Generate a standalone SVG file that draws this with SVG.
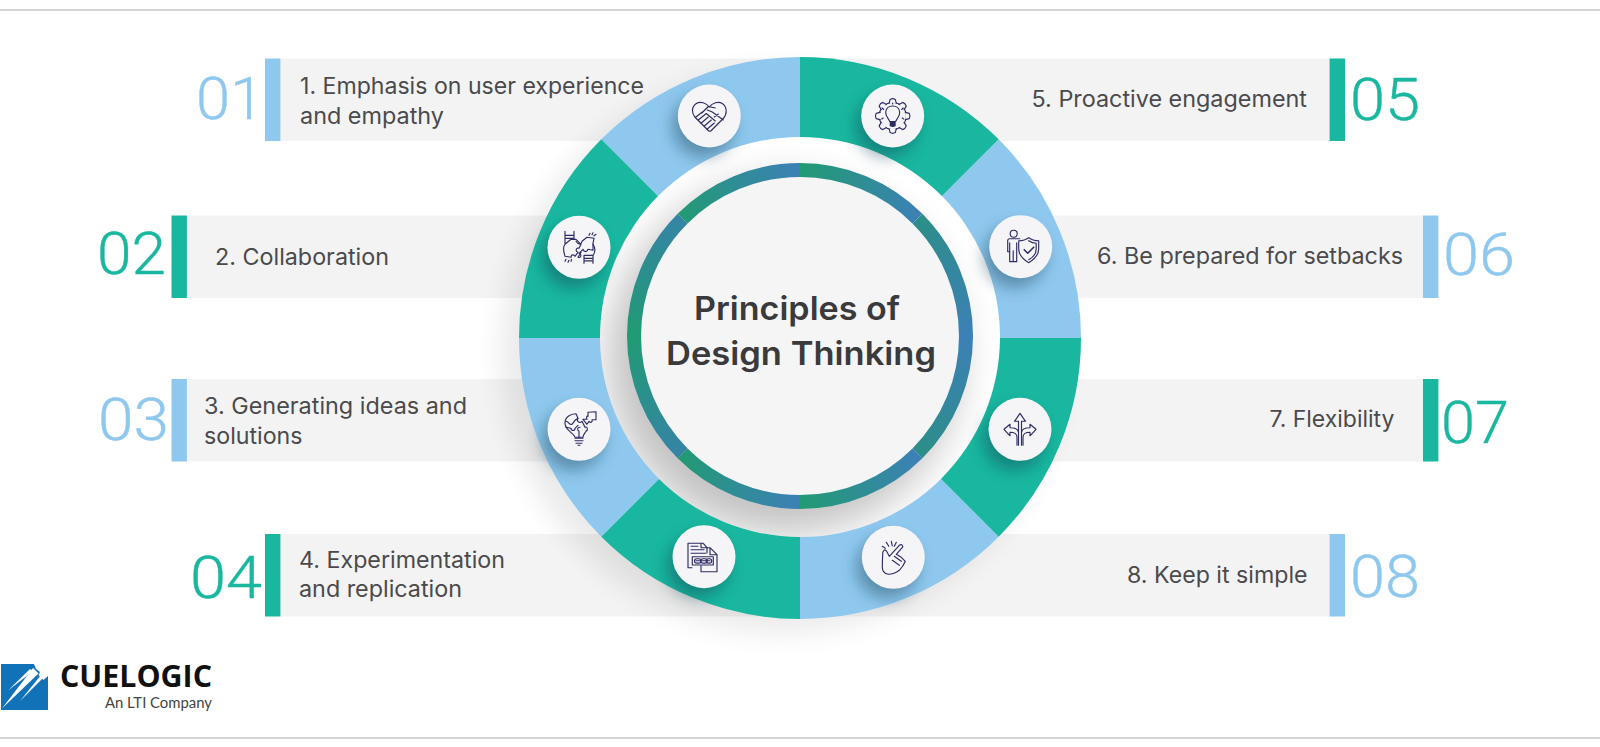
<svg xmlns="http://www.w3.org/2000/svg" xmlns:xlink="http://www.w3.org/1999/xlink" width="1600" height="747" viewBox="0 0 1600 747">
<style>
.bar{fill:#f3f3f3}
.b{fill:#8fc8ee}
.g{fill:#19b79f}
.num{font-family:"Roboto","Liberation Sans",sans-serif;font-weight:300;font-size:60px;stroke-width:.4}
.nb{fill:#8fc8ee;stroke:#8fc8ee}
.ng{fill:#19b79f;stroke:#19b79f}
.lb{font-family:"Inter","Liberation Sans",sans-serif;font-size:22.5px;fill:#4a4a4c}
.ti{font-family:"Inter","Liberation Sans",sans-serif;font-size:33px;font-weight:600;fill:#3a3a3c}
.ic{fill:none;stroke:#2e2c64;stroke-width:1.15;stroke-linecap:round;stroke-linejoin:round}
.disc{fill:#f5f5f7}
.rg{fill:none;stroke-width:14}
</style>
<defs>
<filter id="blur8" x="-60%" y="-60%" width="220%" height="220%"><feGaussianBlur stdDeviation="8"/></filter>
<filter id="blur14" x="-40%" y="-40%" width="180%" height="180%"><feGaussianBlur stdDeviation="14"/></filter>
<filter id="blur22" x="-40%" y="-40%" width="180%" height="180%"><feGaussianBlur stdDeviation="20"/></filter>
<clipPath id="whiteClip"><circle cx="800" cy="337" r="200"/></clipPath>
<linearGradient id="r1" gradientUnits="userSpaceOnUse" x1="800" y1="170" x2="917.4" y2="218.6"><stop offset="0" stop-color="#229a74"/><stop offset="1" stop-color="#3c80b6"/></linearGradient>
<linearGradient id="r2" gradientUnits="userSpaceOnUse" x1="917.4" y1="218.6" x2="966" y2="336"><stop offset="0" stop-color="#2c8e88"/><stop offset="1" stop-color="#3c80b6"/></linearGradient>
<linearGradient id="r3" gradientUnits="userSpaceOnUse" x1="966" y1="336" x2="917.4" y2="453.4"><stop offset="0" stop-color="#3c80b6"/><stop offset="1" stop-color="#2c8e88"/></linearGradient>
<linearGradient id="r4" gradientUnits="userSpaceOnUse" x1="917.4" y1="453.4" x2="800" y2="502"><stop offset="0" stop-color="#3c80b6"/><stop offset="1" stop-color="#229a74"/></linearGradient>
<linearGradient id="r5" gradientUnits="userSpaceOnUse" x1="800" y1="502" x2="682.6" y2="453.4"><stop offset="0" stop-color="#3c80b6"/><stop offset="1" stop-color="#229a74"/></linearGradient>
<linearGradient id="r6" gradientUnits="userSpaceOnUse" x1="682.6" y1="453.4" x2="634" y2="336"><stop offset="0" stop-color="#3584a6"/><stop offset="1" stop-color="#229a74"/></linearGradient>
<linearGradient id="r7" gradientUnits="userSpaceOnUse" x1="634" y1="336" x2="682.6" y2="218.6"><stop offset="0" stop-color="#229a74"/><stop offset="1" stop-color="#3584a6"/></linearGradient>
<linearGradient id="r8" gradientUnits="userSpaceOnUse" x1="682.6" y1="218.6" x2="800" y2="170"><stop offset="0" stop-color="#229a74"/><stop offset="1" stop-color="#3c80b6"/></linearGradient>
<circle id="sh" r="31" fill="#0b3a50" opacity=".42" filter="url(#blur8)"/>
<path id="tooth" class="ic" style="fill:#f5f5f7" d="M-3.6 -12.6 L-2.6 -16.6 Q0 -18 2.6 -16.6 L3.6 -12.6"/>
</defs>

<rect width="1600" height="747" fill="#fff"/>
<rect id="rule-top" x="0" y="9.500" width="1600" height="1" fill="#a9a9a9"/>
<rect id="rule-bottom" x="0" y="737.500" width="1600" height="1" fill="#a9a9a9"/>

<g id="item-1"><rect class="bar" x="280" y="58.500" width="520" height="82.500"/><rect class="b" x="265" y="58.500" width="15.400" height="82.500"/><text class="num nb" x="196" y="118.500" textLength="68" lengthAdjust="spacingAndGlyphs">01</text><text class="lb" x="300" y="94" textLength="344" lengthAdjust="spacingAndGlyphs">1. Emphasis on user experience</text><text class="lb" x="300" y="123.500" textLength="144" lengthAdjust="spacingAndGlyphs">and empathy</text></g>
<g id="item-2"><rect class="bar" x="187" y="215.500" width="613" height="82.500"/><rect class="g" x="171.500" y="215.500" width="15.400" height="82.500"/><text class="num ng" x="97" y="273.500" textLength="69" lengthAdjust="spacingAndGlyphs">02</text><text class="lb" x="215" y="265" textLength="174" lengthAdjust="spacingAndGlyphs">2. Collaboration</text></g>
<g id="item-3"><rect class="bar" x="187" y="379" width="613" height="82.500"/><rect class="b" x="171.500" y="379" width="15.400" height="82.500"/><text class="num nb" x="98" y="439.500" textLength="71" lengthAdjust="spacingAndGlyphs">03</text><text class="lb" x="204" y="414" textLength="263" lengthAdjust="spacingAndGlyphs">3. Generating ideas and</text><text class="lb" x="204" y="443.500" textLength="98.500" lengthAdjust="spacingAndGlyphs">solutions</text></g>
<g id="item-4"><rect class="bar" x="280" y="534" width="520" height="82.500"/><rect class="g" x="265" y="534" width="15.400" height="82.500"/><text class="num ng" x="190" y="597.500" textLength="72" lengthAdjust="spacingAndGlyphs">04</text><text class="lb" x="299" y="567.500" textLength="206" lengthAdjust="spacingAndGlyphs">4. Experimentation</text><text class="lb" x="299" y="597" textLength="163" lengthAdjust="spacingAndGlyphs">and replication</text></g>
<g id="item-5"><rect class="bar" x="800" y="58.500" width="530" height="82.500"/><rect class="g" x="1329.600" y="58.500" width="15.400" height="82.500"/><text class="num ng" x="1350" y="119.500" textLength="70" lengthAdjust="spacingAndGlyphs">05</text><text class="lb" x="1031.500" y="106.500" textLength="275.500" lengthAdjust="spacingAndGlyphs">5. Proactive engagement</text></g>
<g id="item-6"><rect class="bar" x="800" y="215.500" width="623" height="82.500"/><rect class="b" x="1423" y="215.500" width="15.400" height="82.500"/><text class="num nb" x="1443" y="275" textLength="72" lengthAdjust="spacingAndGlyphs">06</text><text class="lb" x="1097" y="264" textLength="306" lengthAdjust="spacingAndGlyphs">6. Be prepared for setbacks</text></g>
<g id="item-7"><rect class="bar" x="800" y="379" width="623" height="82.500"/><rect class="g" x="1423" y="379" width="15.400" height="82.500"/><text class="num ng" x="1441" y="442.500" textLength="68" lengthAdjust="spacingAndGlyphs">07</text><text class="lb" x="1269.500" y="426.500" textLength="125" lengthAdjust="spacingAndGlyphs">7. Flexibility</text></g>
<g id="item-8"><rect class="bar" x="800" y="534" width="530" height="82.500"/><rect class="b" x="1329.600" y="534" width="15.400" height="82.500"/><text class="num nb" x="1350" y="597" textLength="70" lengthAdjust="spacingAndGlyphs">08</text><text class="lb" x="1127" y="582.500" textLength="180.500" lengthAdjust="spacingAndGlyphs">8. Keep it simple</text></g>

<g id="wheel">
<circle cx="782" cy="352" r="281" fill="#000" opacity=".08" filter="url(#blur14)"/>
<path class="b" d="M800 338L800 57A281 281 0 0 0 601.300 139.300Z"/>
<path class="g" d="M800 338L601.300 139.300A281 281 0 0 0 519 338Z"/>
<path class="b" d="M800 338L519 338A281 281 0 0 0 601.300 536.700Z"/>
<path class="g" d="M800 338L601.300 536.700A281 281 0 0 0 800 619Z"/>
<path class="b" d="M800 338L800 619A281 281 0 0 0 998.700 536.700Z"/>
<path class="g" d="M800 338L998.700 536.700A281 281 0 0 0 1081 338Z"/>
<path class="b" d="M800 338L1081 338A281 281 0 0 0 998.700 139.300Z"/>
<path class="g" d="M800 338L998.700 139.300A281 281 0 0 0 800 57Z"/>
</g>

<g id="center">
<circle cx="800" cy="337" r="200" fill="#fff"/>
<g clip-path="url(#whiteClip)"><circle cx="784" cy="358" r="176" fill="#000" opacity=".24" filter="url(#blur22)"/></g>
<circle cx="800" cy="336" r="160" fill="#f5f5f6"/>
<path class="rg" stroke="url(#r1)" d="M800 170A166 166 0 0 1 917.400 218.600"/>
<path class="rg" stroke="url(#r2)" d="M917.400 218.600A166 166 0 0 1 966 336"/>
<path class="rg" stroke="url(#r3)" d="M966 336A166 166 0 0 1 917.400 453.400"/>
<path class="rg" stroke="url(#r4)" d="M917.400 453.400A166 166 0 0 1 800 502"/>
<path class="rg" stroke="url(#r5)" d="M800 502A166 166 0 0 1 682.600 453.400"/>
<path class="rg" stroke="url(#r6)" d="M682.600 453.400A166 166 0 0 1 634 336"/>
<path class="rg" stroke="url(#r7)" d="M634 336A166 166 0 0 1 682.600 218.600"/>
<path class="rg" stroke="url(#r8)" d="M682.600 218.600A166 166 0 0 1 800 170"/>
<text class="ti" x="694" y="320" textLength="206" lengthAdjust="spacingAndGlyphs">Principles of</text>
<text class="ti" x="666" y="365" textLength="270" lengthAdjust="spacingAndGlyphs">Design Thinking</text>
</g>

<g id="icon-1" transform="translate(709.300 116)"><use xlink:href="#sh" href="#sh" x="-6" y="10"/><circle class="disc" r="31.500"/>
<path class="ic" d="M0 -9C-3 -13 -9 -15 -13 -12.500C-18 -9 -18 -3 -14 1.500L-1 14.500C0 15.500 1 15.500 2 14.500L14 2.500C18 -2 18 -9 13 -12.500C9 -15 3 -13 0 -9Z"/>
<path class="ic" d="M-7.500 -3L-1 -9.500L6 -8M-2 -6L3 -4L14 4M-14 1.500L-7 -4M-11 4L-3 -2.500L6 5M-8 7L-1 1M-5 10L2 4M-2 13L5 7M5 1L9 -2"/></g>

<g id="icon-5" transform="translate(892.700 116)"><use xlink:href="#sh" href="#sh" x="-6" y="10"/><circle class="disc" r="31.500"/>
<circle class="ic" r="13.500"/>
<use xlink:href="#tooth" href="#tooth"/><use xlink:href="#tooth" href="#tooth" transform="rotate(45)"/><use xlink:href="#tooth" href="#tooth" transform="rotate(90)"/><use xlink:href="#tooth" href="#tooth" transform="rotate(135)"/><use xlink:href="#tooth" href="#tooth" transform="rotate(180)"/><use xlink:href="#tooth" href="#tooth" transform="rotate(225)"/><use xlink:href="#tooth" href="#tooth" transform="rotate(270)"/><use xlink:href="#tooth" href="#tooth" transform="rotate(315)"/>
<path class="ic" d="M-3 5.500C-4 2.500 -7.500 0 -7 -4C-6.500 -8 -3.500 -10 0 -10C3.500 -10 6.500 -8 7 -4C7.500 0 4 2.500 3 5.500Z"/>
<path d="M-3 6H3V10Q0 12 -3 10Z" fill="#2e2c64"/>
<path class="ic" d="M-10.500 -8L-9 -6.500M10.500 -8L9 -6.500M-11 3L-9.500 2M11 3L9.500 2M0 -13V-12"/></g>

<g id="icon-2" transform="translate(579 247.300)"><use xlink:href="#sh" href="#sh" x="-6" y="10"/><circle class="disc" r="31.500"/>
<path class="ic" d="M-14 -16V-3M-5 -16V-8M-14 -12H-5M-14 -9H-5M-14 -3C-17 0 -15 5 -14 9L-8 10C-8 7 -5 7 -4 9L-1 5C-4 4 -3 0 0 1L2 -3L-3 -8L-8 -8L-14 -3Z"/>
<path class="ic" d="M-3 -6C-1 -3 2 -2 3 -6L8 -10L15 -9L14 -4L14 3L9 2C8 5 5 5 4 2L0 6C3 7 2 11 -1 10L2 5"/>
<path class="ic" d="M14 -3C17 1 16 6 14 8L5 8L5 16M14 8V16M5 11H14M5 13.500H14"/>
<path class="ic" d="M11 -14L10 -12M14 -14.500L13 -12.500M17 -13L15 -11.500M-14 14L-13 12M-11 15L-10 13M-8 14L-7.500 12"/></g>

<g id="icon-3" transform="translate(579 429.300)"><use xlink:href="#sh" href="#sh" x="-6" y="10"/><circle class="disc" r="31.500"/>
<path class="ic" d="M-4 8C-5 4 -14 1 -14 -6C-14 -12 -9 -15.500 -3 -15.500L-1 -11C-3 -9 0 -5 3 -8L6 -2C9 -3 9 1 7 2C6 4 4 5 4 8Z"/>
<path class="ic" d="M-13 -8C-10 -8 -10 -4 -7 -5L-4 -9L-1 -11M-13 -2L-8 -1C-8 2 -4 2 -4 -1L-1 -4M0 8V2C-2 1 -2 -2 1 -2"/>
<path class="ic" d="M-4 9H4M-4 11.500H4M-3 14H3M-1 16H1"/>
<path class="ic" d="M4 -10L8 -10C7 -12 8 -14 9 -13L9 -17L17 -17.500L17 -9.500L13 -9.500C14 -7 11 -6 10 -8L8 -5Z"/></g>

<g id="icon-6" transform="translate(1020.700 246.700)"><use xlink:href="#sh" href="#sh" x="-6" y="10"/><circle class="disc" r="31.500"/>
<circle class="ic" cx="-7" cy="-13" r="3.500"/>
<path class="ic" d="M-1 -8H-11C-12.500 -8 -13 -7 -13 -6V5H-11V-4M-11 -4V15H-7.500V4M-7.500 15H-4V5M-4 13V-4"/>
<path class="ic" d="M8 -9C12 -6 15 -6 18 -6V2C18 9 13 13 8 16C3 13 -2 9 -2 2V-6C1 -6 4 -6 8 -9Z"/>
<path class="ic" d="M8 -6C11 -4 13 -3.500 15.500 -3.500V2C15.500 7 12 11 8 13"/>
<path class="ic" style="stroke-width:1.6" d="M3.500 3L7 6.500L13 0.500"/></g>

<g id="icon-7" transform="translate(1020 429.300)"><use xlink:href="#sh" href="#sh" x="-6" y="10"/><circle class="disc" r="31.500"/>
<path class="ic" d="M-1.500 16V-8H-5.500L0 -16L5.500 -8H1.500V16"/>
<path class="ic" d="M-3 16V8C-3 3 -8 3 -10 3V6.500L-16 0L-10 -5V-1.500C-6 -1.500 -2 -1 -1.500 3"/>
<path class="ic" d="M3 16V8C3 3 8 3 10 3V6.500L16 0L10 -5V-1.500C6 -1.500 2 -1 1.500 3"/></g>

<g id="icon-4" transform="translate(704 556.700)"><use xlink:href="#sh" href="#sh" x="-6" y="10"/><circle class="disc" r="31.500"/>
<path class="ic" d="M3 -4V-9L-1 -13.500H-16V11H-12"/>
<path class="ic" d="M-3 -13.500V-9H3"/>
<path class="ic" d="M3 -9H6L13 -2V15H-3V9M6 -9V-2H13"/>
<rect class="ic" x="-11.700" y="0" width="21" height="8.300"/>
<path class="ic" d="M-13 -10.500H-6M-13 -7H0M-13 -3.500H2M-8 4H6"/>
<rect class="ic" x="-9.500" y="2" width="6.500" height="4.400" rx="2.200"/><rect class="ic" x="-3.300" y="2" width="6.500" height="4.400" rx="2.200"/><rect class="ic" x="2.200" y="2" width="5.500" height="4.400" rx="2.200"/></g>

<g id="icon-8" transform="translate(893.300 557.300)"><use xlink:href="#sh" href="#sh" x="-6" y="10"/><circle class="disc" r="31.500"/>
<path class="ic" d="M-10.500 -5Q-9 -9 -7 -6.500L-4 -1L6 -12Q9 -14 9.500 -10.500L3 -3L8 0L12 4Q10 9 6 13Q1 17 -5 17Q-11 16 -11 10Q-11 4 -10.500 -5Z"/>
<path class="ic" d="M1 -1L8 4M-1 3L6 8"/>
<path class="ic" d="M-7 -15L-4.500 -11M-2 -16L-1 -11.500M3 -15L1 -11M-11 -11L-8 -9"/></g>

<g id="logo">
<rect x="1" y="664" width="47" height="46" fill="#1272b8"/>
<path d="M34 664H48V676L43.500 680L38.500 675L40 672L36 669Z" fill="#fff"/>
<path d="M33 668L38.500 673.500L2 708.500Z" fill="#fff"/>
<path d="M30 669L33 671L8 690.500Z" fill="#fff"/>
<path d="M41 675L43.500 677.500L20 701Z" fill="#fff"/>
<text x="60" y="687" font-family="'Open Sans','Liberation Sans',sans-serif" font-size="30" font-weight="700" fill="#111" textLength="152" lengthAdjust="spacingAndGlyphs">CUELOGIC</text>
<text x="105" y="708" font-family="'Lato','Liberation Sans',sans-serif" font-size="15.500" fill="#444" textLength="107" lengthAdjust="spacingAndGlyphs">An LTI Company</text>
</g>
</svg>
